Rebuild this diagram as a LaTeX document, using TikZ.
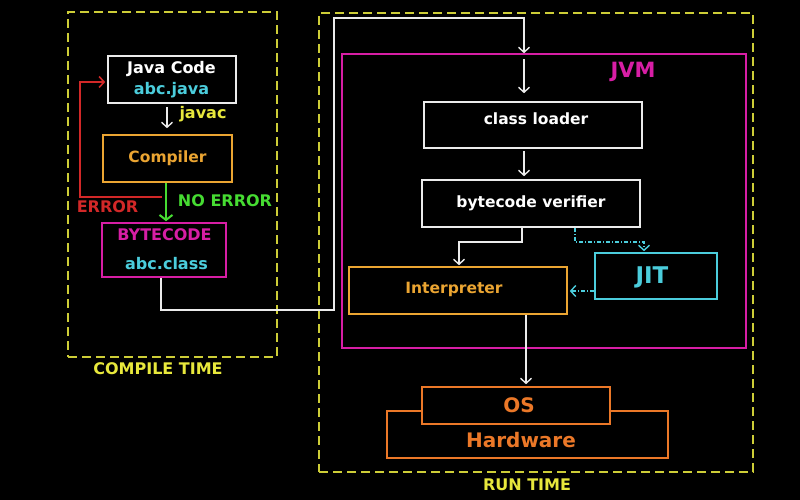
\documentclass[tikz,border=0pt]{standalone}
\usepackage{fontspec}
\setmainfont{DejaVu Sans}
\usetikzlibrary{arrows.meta,calc}
\definecolor{dashyel}{RGB}{205,205,55}
\definecolor{yeltxt}{RGB}{232,232,60}
\definecolor{magA}{RGB}{215,30,165}
\definecolor{cyanA}{RGB}{75,205,220}
\definecolor{orangeA}{RGB}{235,165,50}
\definecolor{orangeB}{RGB}{235,120,40}
\definecolor{greenA}{RGB}{70,220,50}
\definecolor{redA}{RGB}{210,40,40}
\definecolor{whiteA}{RGB}{235,235,235}
\begin{document}
\begin{tikzpicture}[x=1pt,y=-1pt,
  txt/.style={inner sep=0pt, font=\bfseries\fontsize{16}{19}\selectfont},
  smalltxt/.style={inner sep=0pt, font=\bfseries\fontsize{15.5}{18}\selectfont},
  box/.style={draw, line width=1.6pt, inner sep=0pt},
  dashbox/.style={draw=dashyel, line width=1.5pt, dash pattern=on 9pt off 5pt, inner sep=0pt},
  wline/.style={draw=whiteA, line width=1.4pt},
  warr/.style={wline, -{Straight Barb[length=5pt,width=11pt]}},
  carr/.style={draw=cyanA, line width=1.4pt, dash pattern=on 4pt off 2pt on 1pt off 2pt, -{Straight Barb[length=5pt,width=11pt]}},
  garr/.style={draw=greenA, line width=2pt, -{Straight Barb[length=5pt,width=13pt]}},
  rarr/.style={draw=redA, line width=1.6pt, -{Straight Barb[length=5pt,width=11pt]}}
]
\fill[black] (0,0) rectangle (800,500);
\useasboundingbox (0,0) rectangle (800,500);

% compile-time region
\node[dashbox, minimum width=209pt, minimum height=345pt] (ct) at (172.5,184.5) {};
\node[txt, text=yeltxt] (ctl) at (158,369) {COMPILE TIME};

\node[box, draw=whiteA, minimum width=128pt, minimum height=47pt] (jc) at (172,79.5) {};
\node[txt, text=white] (jct) at (171.5,69) {Java Code};
\node[txt, text=cyanA] (jcf) at (171.5,90) {abc.java};

\node[box, draw=orangeA, minimum width=129pt, minimum height=47pt, smalltxt, text=orangeA] (comp) at (167.5,158.5) {Compiler};

\node[box, draw=magA, minimum width=124pt, minimum height=54pt] (bc) at (164,250) {};
\node[txt, text=magA] (bct) at (164.5,234.5) {BYTECODE};
\node[txt, text=cyanA] (bcf) at (166.5,264) {abc.class};

\node[txt, text=yeltxt] (javac) at (203,114) {javac};
\node[txt, text=redA] (err) at (107.5,207) {ERROR};
\node[txt, text=greenA] (noerr) at (225,201) {NO ERROR};

% run-time region
\node[dashbox, minimum width=434pt, minimum height=459pt] (rt) at (536,242.5) {};
\node[txt, text=yeltxt] (rtl) at (527,484.5) {RUN TIME};

\node[box, draw=magA, minimum width=404pt, minimum height=294pt] (jvm) at (544,201) {};
\node[inner sep=0pt, font=\bfseries\fontsize{21}{24}\selectfont, text=magA] (jvml) at (633,72) {JVM};

\node[box, draw=whiteA, minimum width=218pt, minimum height=46pt] (cl) at (533,125) {};
\node[smalltxt, text=white] (clt) at (536,119) {class loader};

\node[box, draw=whiteA, minimum width=218pt, minimum height=47pt, smalltxt, text=white] (ver) at (531,203.5) {bytecode verifier};

\node[box, draw=cyanA, minimum width=122pt, minimum height=46pt] (jit) at (656,276) {};
\node[inner sep=0pt, font=\bfseries\fontsize{23}{26}\selectfont, text=cyanA] (jitt) at (652,277) {JIT};

\node[box, draw=orangeA, minimum width=218pt, minimum height=47pt] (interp) at (458,290.5) {};
\node[smalltxt, text=orangeA] (intt) at (454,289) {Interpreter};

\node[box, draw=orangeB, minimum width=281pt, minimum height=47pt] (hw) at (527.5,434.5) {};
\node[box, draw=orangeB, fill=black, minimum width=188pt, minimum height=37pt] (os) at (516,405.5) {};
\node[inner sep=0pt, font=\bfseries\fontsize{20}{24}\selectfont, text=orangeB] (ost) at (519,405) {OS};
\node[inner sep=0pt, font=\bfseries\fontsize{20}{24}\selectfont, text=orangeB] (hwt) at (521,440) {Hardware};

% connectors
\coordinate (jx) at (167,0);
\draw[warr, shorten <=3pt, shorten >=6pt] (jx |- jc.south) -- (jx |- comp.north);

\coordinate (gx) at (166,0);
\draw[garr, shorten >=1pt] (gx |- comp.south) -- (gx |- bc.north);

\coordinate (e0) at (162,197);
\coordinate (e1) at (80,197);
\coordinate (e2) at (80,82);
\draw[rarr, shorten >=2pt] (e0) -- (e1) -- (e2) -- (e2 -| jc.west);

\coordinate (b0) at (161,0);
\coordinate (c1) at (334,310);
\coordinate (c2) at (334,18);
\coordinate (c3) at (524,18);
\draw[warr] (b0 |- bc.south) |- (c1) -- (c2) -- (c3) -- (c3 |- jvm.north);

\draw[warr, shorten <=6pt, shorten >=8pt] (c3 |- jvm.north) -- (c3 |- cl.north);
\draw[warr, shorten <=2pt, shorten >=3pt] (c3 |- cl.south) -- (c3 |- ver.north);

\coordinate (v1) at (522,0);
\coordinate (v2) at (459,0);
\draw[warr, shorten >=1pt] (v1 |- ver.south) -- ++(0,14) -| (v2 |- interp.north);

\coordinate (d1) at (575,0);
\coordinate (d2) at (644,0);
\draw[carr, shorten >=1pt] (d1 |- ver.south) -- ++(0,14) -| (d2 |- jit.north);

\coordinate (jw) at (0,291);
\draw[carr, shorten >=2pt] (jw -| jit.west) -- (jw -| interp.east);

\coordinate (ix) at (526,0);
\draw[warr, shorten >=2pt] (ix |- interp.south) -- (ix |- os.north);
\end{tikzpicture}
\end{document}
